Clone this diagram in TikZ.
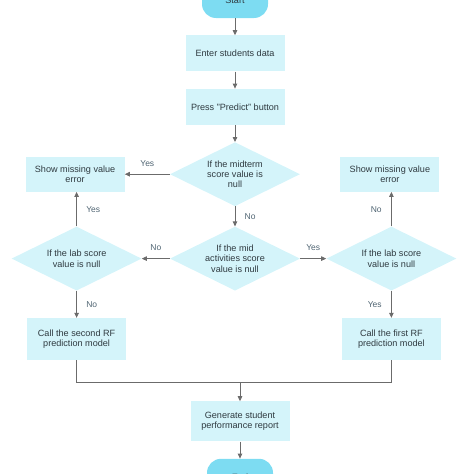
\documentclass[tikz,border=0pt]{standalone}
\usepackage{fontspec}
\setmainfont{Liberation Sans}
\usepackage{xcolor}
\usetikzlibrary{arrows.meta,positioning,calc,shapes.geometric}
\definecolor{termcol}{HTML}{7DDCF2}
\definecolor{boxcol}{HTML}{D4F4FA}
\definecolor{txtcol}{HTML}{2F3A40}
\definecolor{lblcol}{HTML}{4F6472}
\definecolor{linecol}{HTML}{6B6B6B}

\begin{document}
\begin{tikzpicture}[
  font=\fontsize{9.1}{10.4}\selectfont, text=txtcol,
  t/.style={fill=termcol, rounded corners=14pt, minimum width=66pt, minimum height=36pt, align=center},
  b/.style={fill=boxcol, minimum width=99pt, minimum height=36pt, align=center, inner sep=2pt},
  d/.style={diamond, fill=boxcol, minimum width=130pt, minimum height=64pt, inner sep=0pt, align=center, aspect=2},
  a/.style={-{Triangle[length=5pt,width=4.5pt]}, draw=linecol, line width=0.8pt},
  l/.style={text=lblcol, font=\fontsize{8.5}{10}\selectfont}
]
\useasboundingbox (0,0) rectangle (474pt,-474pt);

\node[t] (start) at (235pt,0pt) {Start};
\node[b, below=17pt of start] (enter) {Enter students data};
\node[b, below=17pt of enter] (press) {Press "Predict" button};
\node[d, below=17pt of press] (midterm) {If the midterm\\score value is\\null};
\node[b, minimum height=35pt, left=45pt of midterm] (errl) {Show missing value\\error};
\node[b, minimum height=35pt, right=40pt of midterm] (errr) {Show missing value\\error};
\node[d, below=20pt of midterm] (act) {If the mid\\activities score\\value is null};
\node[d, left=28pt of act] (labl) {If the lab score\\value is null};
\node[d, right=26pt of act] (labr) {If the lab score\\value is null};
\node[b, minimum height=42pt, below=27pt of labl] (rfl) {Call the second RF\\prediction model};
\node[b, minimum height=42pt, below=27pt of labr] (rfr) {Call the first RF\\prediction model};
\coordinate (join) at ([yshift=-22pt]rfl.south -| act.south);
\node[b, minimum height=40pt, below=19pt of join, xshift=5pt] (gen) {Generate student\\performance report};
\node[t, below=17pt of gen] (end) {End};

\draw[a] (start) -- (enter);
\draw[a] (enter) -- (press);
\draw[a] (press) -- (midterm);
\draw[a] (midterm) -- node[l, above=4pt]{Yes} (errl.east |- midterm);
\draw[a] (midterm) -- node[l, right=6pt]{No} (act);
\draw[a] (act) -- node[l, above=4pt]{No} (labl);
\draw[a] (act) -- node[l, above=4pt]{Yes} (labr);
\draw[a] (labl.north) -- node[l, right=6pt]{Yes} (labl.north |- errl.south);
\draw[a] (labr.north) -- node[l, left=6pt]{No} (labr.north |- errr.south);
\draw[a] (labl.south) -- node[l, right=6pt]{No} (labl.south |- rfl.north);
\draw[a] (labr.south) -- node[l, left=6pt]{Yes} (labr.south |- rfr.north);
\draw[draw=linecol, line width=0.8pt] (rfl.south) -- (rfl.south |- join) -- (rfr.south |- join) -- (rfr.south);
\draw[a] (gen.north |- join) -- (gen);
\draw[a] (gen) -- (end);
\end{tikzpicture}
\end{document}
